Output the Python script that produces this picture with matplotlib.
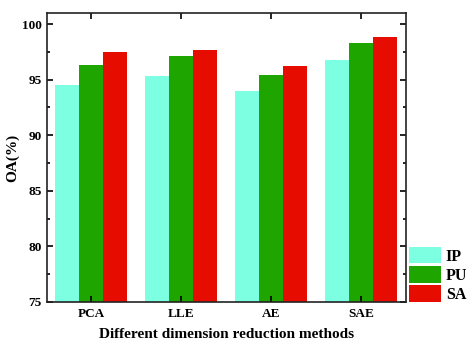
import matplotlib
matplotlib.use("Agg")
import matplotlib.pyplot as plt
import numpy as np
from matplotlib.ticker import MultipleLocator

categories = ["PCA", "LLE", "AE", "SAE"]
series_names = ["IP", "PU", "SA"]
ip = [94.5, 95.3, 94.0, 96.8]
pu = [96.3, 97.15, 95.4, 98.3]
sa = [97.5, 97.7, 96.25, 98.85]
colors = ["#7DFFE2", "#1EA500", "#E60D00"]

plt.rcParams['font.family'] = ['Liberation Serif', 'DejaVu Serif']
plt.rcParams['font.weight'] = 'bold'

fig = plt.figure(figsize=(4.74, 3.47), dpi=100)
ax = fig.add_axes([47/474, 1-302/347, (406-47)/474, (302-13)/347])

x = np.arange(len(categories))
w = 0.8/3
handles = []
for i, (vals, c, n) in enumerate(zip([ip, pu, sa], colors, series_names)):
    b = ax.bar(x + (i-1)*w, np.array(vals)-75, bottom=75, width=w, color=c, label=n)
    handles.append(b)

ax.set_xlim(-0.49, 3.5)
ax.set_ylim(75, 101)
ax.set_xticks(x)
ax.set_xticklabels(categories, fontsize=9.5, fontweight='bold')
ax.yaxis.set_major_locator(MultipleLocator(5))
ax.yaxis.set_minor_locator(MultipleLocator(2.5))
for lab in ax.get_yticklabels():
    lab.set_fontsize(9.5)
    lab.set_fontweight('bold')
ax.tick_params(axis='both', which='both', direction='in', top=True, right=True, width=1.2)
ax.tick_params(axis='both', which='major', length=4, pad=4)
ax.tick_params(axis='both', which='minor', length=2.5)
ax.tick_params(axis='x', which='minor', bottom=False, top=False)
for s in ax.spines.values():
    s.set_linewidth(1.2)
    s.set_color('#222222')

ax.set_ylabel("OA(%)", fontsize=11, fontweight='bold', labelpad=2)
ax.set_xlabel("Different dimension reduction methods", fontsize=11, fontweight='bold', labelpad=6)

leg = fig.legend(handles=handles, labels=series_names, loc='lower left',
                 bbox_to_anchor=(409/474, 1-303/347), frameon=False,
                 fontsize=11.5, handlelength=2.0, handleheight=1.2,
                 labelspacing=0.1, handletextpad=0.3, borderaxespad=0, borderpad=0)
for t in leg.get_texts():
    t.set_fontweight('bold')

fig.savefig("out.png", dpi=100)
